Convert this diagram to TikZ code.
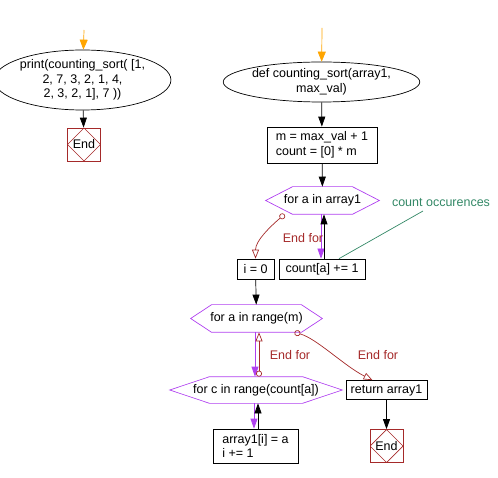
\documentclass[tikz,border=0pt]{standalone}
\usepackage{fontspec}
\setmainfont{Liberation Sans}
\usetikzlibrary{arrows.meta,positioning,shapes.geometric}
\definecolor{flowOrange}{HTML}{FFA500}
\definecolor{flowPurple}{HTML}{B040F0}
\definecolor{flowRed}{HTML}{A52A2A}
\definecolor{flowGreen}{HTML}{338866}
% purple loop hexagon round a plain node
\newcommand\hexframe[2]{\draw[flowPurple] (#1.west) -- ([xshift=#2]#1.north west)
  -- ([xshift=-#2]#1.north east) -- (#1.east) -- ([xshift=-#2]#1.south east)
  -- ([xshift=#2]#1.south west) -- cycle;}

\begin{document}
\begin{tikzpicture}[x=1pt,y=-1pt,line width=0.7pt,font=\fontsize{12.5}{14.5}\selectfont,
  io/.style={draw,ellipse,inner sep=0pt,align=center},
  stmt/.style={draw,rectangle,inner sep=3pt,align=left,minimum height=20pt},
  loophex/.style={rectangle,inner sep=0pt,minimum height=27pt},
  endbox/.style={draw=flowRed,minimum width=33pt,minimum height=33pt,inner sep=0pt,
    path picture={\draw[flowRed] (path picture bounding box.north)
      -- (path picture bounding box.east) -- (path picture bounding box.south)
      -- (path picture bounding box.west) -- cycle;}},
  flow/.style={-{Triangle[length=10pt,width=7pt]}},
  startarrow/.style={flowOrange,-{Triangle[length=10pt,width=8pt]}},
  loopin/.style={flowPurple,-{Triangle[length=10pt,width=7pt]}},
  endfor/.style={flowRed,{Circle[open,length=6pt,width=6pt]}-{Triangle[open,length=9pt,width=7pt]}},
  endlabel/.style={text=flowRed},
  ]
  \useasboundingbox (0,0) rectangle (498,478);

  % main program
  \coordinate (start1) at (84,30);
  \node[io,minimum width=155pt,minimum height=60pt] (print) at (82.5,80)
    {print(counting\_sort( [1,\\2, 7, 3, 2, 1, 4,\\2, 3, 2, 1], 7 ))};
  \node[endbox] (end1) at (84,144.5) {End};

  % function
  \coordinate (start2) at (322,28);
  \node[io,minimum width=167pt,minimum height=40pt] (def) at (321.5,82)
    {def counting\_sort(array1,\\max\_val)};
  \node[stmt,minimum width=110pt,minimum height=36pt] (init) at (322,145)
    {m = max\_val + 1\\count = [0] * m};
  \node[loophex,minimum width=113pt] (forA) at (322.5,200.5) {for a in array1};
  \node[stmt,minimum width=86pt] (cnt) at (322,269) {count[a] += 1};
  \node[stmt,minimum width=37pt] (izero) at (255.5,269) {i = 0};
  \node[loophex,minimum width=131pt] (forM) at (256.5,318.5) {for a in range(m)};
  \node[loophex,minimum width=172pt,minimum height=26pt] (forC) at (256,390)
    {for c in range(count[a])};
  \node[stmt,minimum width=85pt,minimum height=34pt] (fill) at (255.5,446)
    {array1[i] = a\\i += 1};
  \node[stmt,minimum width=81pt,minimum height=19pt] (ret) at (386.5,390) {return array1};
  \node[endbox] (end2) at (386.5,446) {End};
  \hexframe{forA}{27pt}
  \hexframe{forM}{21pt}
  \hexframe{forC}{40pt}

  % comment
  \node[text=flowGreen] (note) at (441,203) {count occurences};
  \coordinate (noteend) at (423,211);

  % connectors
  \draw[startarrow] (start1) -- (print);
  \draw[flow] (print) -- (end1);
  \draw[startarrow] (start2) -- (def);
  \draw[flow] (def) -- (init);
  \draw[flow] (init) -- (forA);
  \draw[loopin] ([xshift=-1.5pt]forA.south) -- ([xshift=-1pt]cnt.north);
  \draw[flow] ([xshift=2pt]cnt.north) -- ([xshift=1.5pt]forA.south);
  \draw[endfor] ([xshift=-38pt]forA.south) .. controls +(-14,12) and +(0,-18) .. (izero.north);
  \draw[flowGreen] ([xshift=17pt]cnt.north) -- (noteend);
  \draw[flow] (izero) -- (forM);
  \draw[loopin] ([xshift=-1.5pt]forM.south) -- ([xshift=-1pt]forC.north);
  \draw[endfor] ([xshift=3pt]forC.north) -- ([xshift=2.5pt]forM.south);
  \draw[loopin] ([xshift=-2pt]forC.south) -- ([xshift=-1.5pt]fill.north);
  \draw[flow] ([xshift=2.5pt]fill.north) -- ([xshift=2pt]forC.south);
  \draw[endfor] ([xshift=38pt]forM.south) .. controls +(22,6) and +(-28,-14) .. ([xshift=-14pt]ret.north);
  \draw[flow] (ret) -- (end2);

  \node[endlabel] (lblA) at (303,238) {End for};
  \node[endlabel] (lblC) at (290,355) {End for};
  \node[endlabel] (lblM) at (378,355) {End for};
\end{tikzpicture}
\end{document}
